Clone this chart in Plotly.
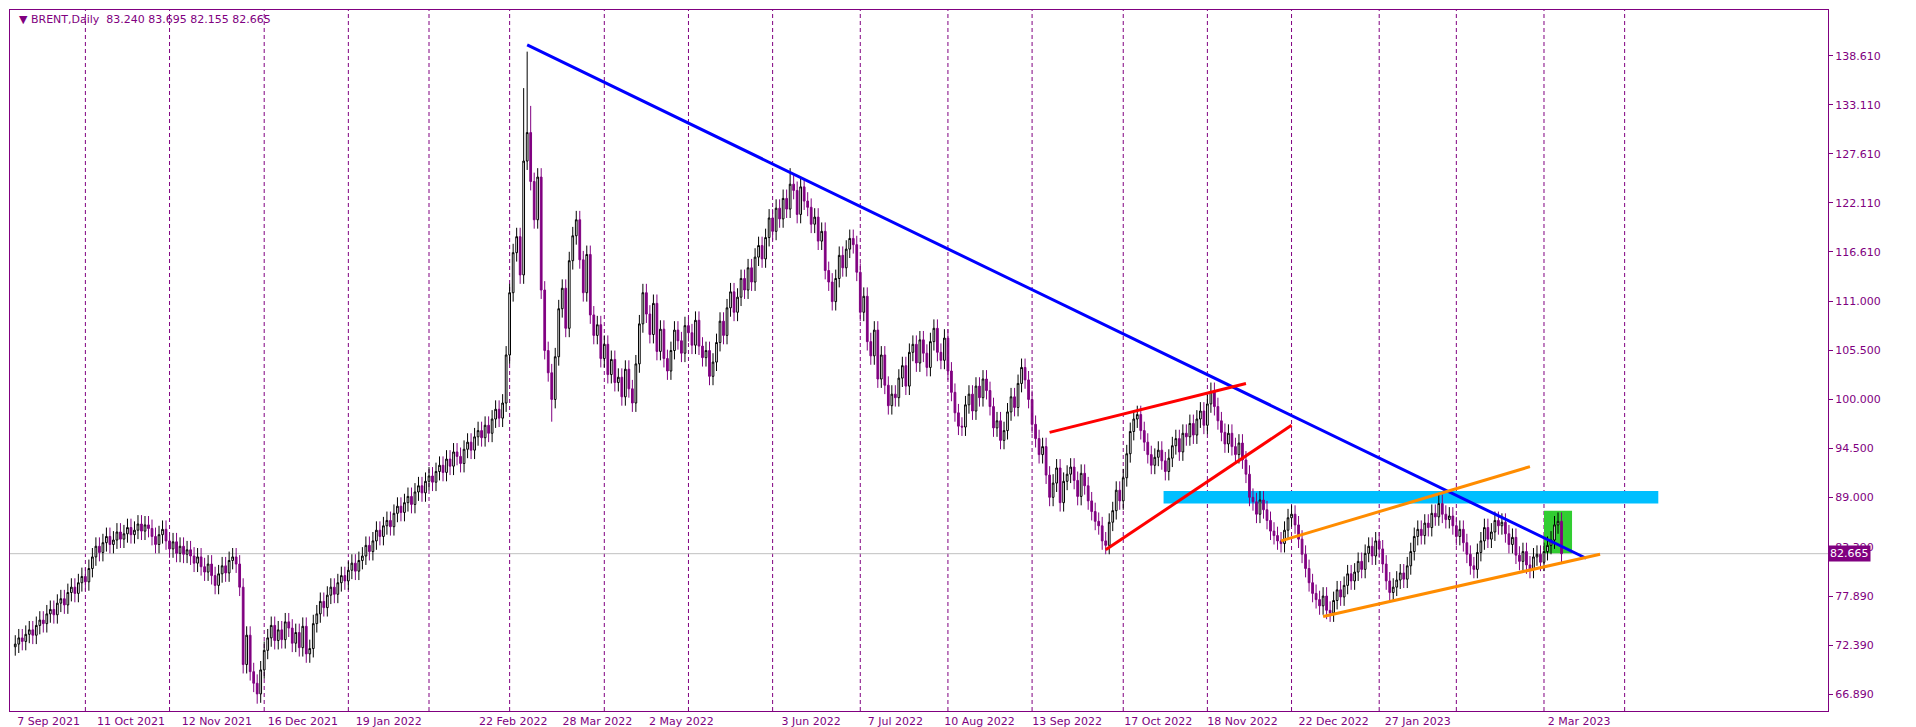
import plotly.graph_objects as go

closes = [
72.5,73.2,72.8,73.6,74.1,73.5,74.6,75.2,74.8,75.9,
76.4,75.8,77.1,77.6,76.9,78.3,78.9,78.2,79.4,80.1,
79.5,81.0,82.3,83.5,82.8,83.9,84.6,83.7,84.2,85.1,
84.3,84.9,85.6,84.8,85.3,86.0,85.2,85.9,85.5,84.6,
83.7,84.8,85.4,84.1,83.2,84.0,82.7,83.5,82.6,83.1,
82.4,81.6,82.3,81.2,80.6,81.5,80.2,79.1,80.4,81.3,
80.5,81.9,82.3,81.5,78.9,70.2,73.5,69.4,68.1,66.9,
69.6,71.8,73.2,74.6,72.9,74.1,73.0,75.0,74.3,72.6,
73.8,72.1,74.5,71.4,72.0,74.8,75.9,77.3,76.6,78.0,
78.9,78.1,79.4,80.2,79.6,80.8,81.6,80.7,81.9,82.4,
83.6,82.9,84.1,85.3,84.6,85.8,86.4,85.7,87.2,88.0,
87.3,88.4,89.1,88.2,89.6,90.3,89.5,90.8,91.4,90.7,
91.9,92.6,91.8,93.3,92.5,94.1,93.6,92.8,94.4,95.2,
94.3,95.8,96.5,95.7,97.1,96.2,97.8,98.9,97.9,99.6,
105.0,112.0,116.5,118.3,114.0,126.8,130.0,124.5,120.2,125.0,
112.3,105.5,103.0,100.0,104.8,110.2,112.5,108.0,115.6,118.4,
120.2,115.7,112.0,116.3,109.5,107.2,108.4,104.6,106.2,102.8,
104.5,101.9,102.5,100.3,103.4,101.2,99.6,104.0,108.5,112.0,
109.6,107.3,110.8,105.4,107.9,104.6,103.2,105.5,107.8,106.6,
105.2,108.3,107.5,106.1,108.9,106.0,104.7,105.5,102.6,104.2,
106.4,108.8,107.2,110.3,112.1,109.8,111.5,113.6,112.3,114.8,
113.2,116.0,117.3,115.8,118.2,120.4,118.9,121.5,120.3,122.6,
121.4,124.2,123.5,120.8,123.9,122.3,121.6,119.7,120.5,117.8,
118.9,114.5,113.2,111.0,113.6,116.2,114.8,116.9,118.1,117.4,
114.3,109.8,111.6,106.5,104.9,107.8,102.3,105.0,101.6,99.3,
100.6,100.2,102.4,103.8,101.5,105.3,106.2,104.1,106.7,105.2,
103.6,106.5,108.0,105.3,104.4,106.9,103.2,100.8,98.5,97.0,
96.9,99.4,100.6,98.7,101.5,100.2,102.3,101.0,99.2,96.8,
97.6,95.4,96.5,98.6,100.3,99.1,101.8,103.6,102.2,100.0,
97.2,95.6,93.8,94.7,91.5,89.0,90.6,92.3,88.4,90.8,
91.6,92.4,90.9,89.1,91.7,90.3,88.6,87.4,86.3,85.8,
84.1,83.6,86.2,87.5,89.8,88.6,91.2,93.9,96.4,97.8,
98.3,96.5,95.2,93.8,92.6,93.5,94.3,93.1,91.9,93.4,
94.8,95.6,94.1,96.2,95.8,97.3,96.0,97.8,98.7,97.1,
99.5,100.9,99.2,97.6,96.3,95.0,96.2,94.7,93.8,95.1,
93.2,91.6,89.0,88.5,87.1,88.7,87.6,86.4,85.2,84.7,
84.1,83.8,85.3,86.7,87.1,85.9,84.3,82.6,81.0,79.4,
78.2,77.5,76.8,77.9,76.3,76.0,77.4,78.6,77.8,79.1,
80.4,79.6,80.6,81.8,80.9,82.7,83.5,82.4,84.1,83.2,
81.5,79.6,78.3,78.9,79.7,80.5,79.8,81.3,82.9,84.6,
85.4,84.7,86.1,85.6,87.2,86.8,88.3,87.1,86.5,86.9,
85.8,84.6,85.4,83.9,82.6,81.3,80.9,82.8,84.1,85.6,
84.3,85.1,86.4,85.8,86.2,84.9,83.7,84.5,82.5,81.8,
82.9,81.4,80.9,82.3,82.6,81.7,82.9,83.6,84.2,85.9,
86.3,82.665]
first_open = 72.2
wick = 1.0
high_overrides = {145: 135.0, 146: 139.1, 147: 133.0, 221: 126.0}
low_overrides = {69: 65.8, 153: 97.5}

date_labels = ["7 Sep 2021","11 Oct 2021","12 Nov 2021","16 Dec 2021","19 Jan 2022","22 Feb 2022",
               "28 Mar 2022","2 May 2022","3 Jun 2022","7 Jul 2022","10 Aug 2022","13 Sep 2022",
               "17 Oct 2022","18 Nov 2022","22 Dec 2022","27 Jan 2023","2 Mar 2023"]
label_bars = [9.5,33,57.5,82,106.5,142,166,190,227,251,275,300,326,350,376,400,446]
grid_bars = [20,44,71,95,118,141,168,192,216,241,266,290,316,340,364,389,411,436,459]
y_ticks = [138.61,133.11,127.61,122.11,116.61,111.0,105.5,100.0,94.5,89.0,83.39,77.89,72.39,66.89]
last_price = 82.665

blue_line = ([146, 448], [139.85, 82.15])
red_upper = ([295, 351], [96.3, 101.8])
red_lower = ([311, 364], [83.1, 97.1])
orange_upper = ([361, 432], [84.1, 92.45])
orange_lower = ([373, 452], [75.6, 82.6])
cyan_zone = ([327.5, 468.6], [88.3, 89.7])
green_zone = ([436, 444], [82.7, 87.5])

n = len(closes)
x = list(range(n))
opens = [first_open] + closes[:-1]
highs = [high_overrides.get(i, max(o, c) + wick) for i, (o, c) in enumerate(zip(opens, closes))]
lows = [low_overrides.get(i, min(o, c) - wick) for i, (o, c) in enumerate(zip(opens, closes))]

PURPLE = "#800080"
fig = go.Figure()
for gb in grid_bars:
    fig.add_shape(type="line", x0=gb, x1=gb, y0=0, y1=1, yref="paper",
                  line=dict(color=PURPLE, width=1, dash="4px,3px"), layer="below")
fig.add_shape(type="line", x0=0, x1=1, xref="paper", y0=last_price, y1=last_price,
              line=dict(color="#c0c0c0", width=1), layer="below")
fig.add_shape(type="rect", x0=cyan_zone[0][0], x1=cyan_zone[0][1], y0=cyan_zone[1][0], y1=cyan_zone[1][1],
              fillcolor="#00bfff", line=dict(width=0), layer="below")
fig.add_shape(type="rect", x0=green_zone[0][0], x1=green_zone[0][1], y0=green_zone[1][0], y1=green_zone[1][1],
              fillcolor="#32cd32", line=dict(width=0), layer="below")

fig.add_trace(go.Candlestick(x=x, open=opens, high=highs, low=lows, close=closes,
    increasing=dict(line=dict(color="black", width=1), fillcolor="white"),
    decreasing=dict(line=dict(color=PURPLE, width=1), fillcolor=PURPLE),
    whiskerwidth=0, showlegend=False, hoverinfo="skip"))

for (lx, ly), col, w in [(blue_line, "#0000ff", 3), (red_upper, "#ff0000", 3), (red_lower, "#ff0000", 3),
                          (orange_upper, "#ff8c00", 3), (orange_lower, "#ff8c00", 3)]:
    fig.add_trace(go.Scatter(x=lx, y=ly, mode="lines", line=dict(color=col, width=w),
                             showlegend=False, hoverinfo="skip"))

fig.add_annotation(x=1, xref="paper", y=last_price, yref="y", text=f"{last_price:.3f}",
                   xanchor="left", showarrow=False, bgcolor=PURPLE, font=dict(color="white", size=11, family="DejaVu Sans"),
                   borderpad=1)
fig.add_annotation(x=0.004, y=0.998, xref="paper", yref="paper", xanchor="left", yanchor="top", showarrow=False,
                   text="▼ BRENT,Daily  83.240 83.695 82.155 82.665", font=dict(color=PURPLE, size=11, family="DejaVu Sans"))

fig.update_layout(
    width=1916, height=727, margin=dict(l=2, r=96, t=2, b=24),
    paper_bgcolor="white", plot_bgcolor="white",
    xaxis=dict(range=[-1.5, 517], rangeslider=dict(visible=False), showgrid=False, zeroline=False,
               tickvals=label_bars, ticktext=date_labels, tickfont=dict(color=PURPLE, size=11, family="DejaVu Sans"),
               showline=True, linecolor=PURPLE, mirror=True, ticks=""),
    yaxis=dict(range=[64.98, 143.78], side="right", showgrid=False, zeroline=False,
               tickvals=y_ticks, ticktext=[f"{v:.3f}" for v in y_ticks],
               tickfont=dict(color=PURPLE, size=11, family="DejaVu Sans"),
               showline=True, linecolor=PURPLE, mirror=True, ticks="outside", ticklen=4, tickcolor=PURPLE),
)
fig.write_html("out.html")
